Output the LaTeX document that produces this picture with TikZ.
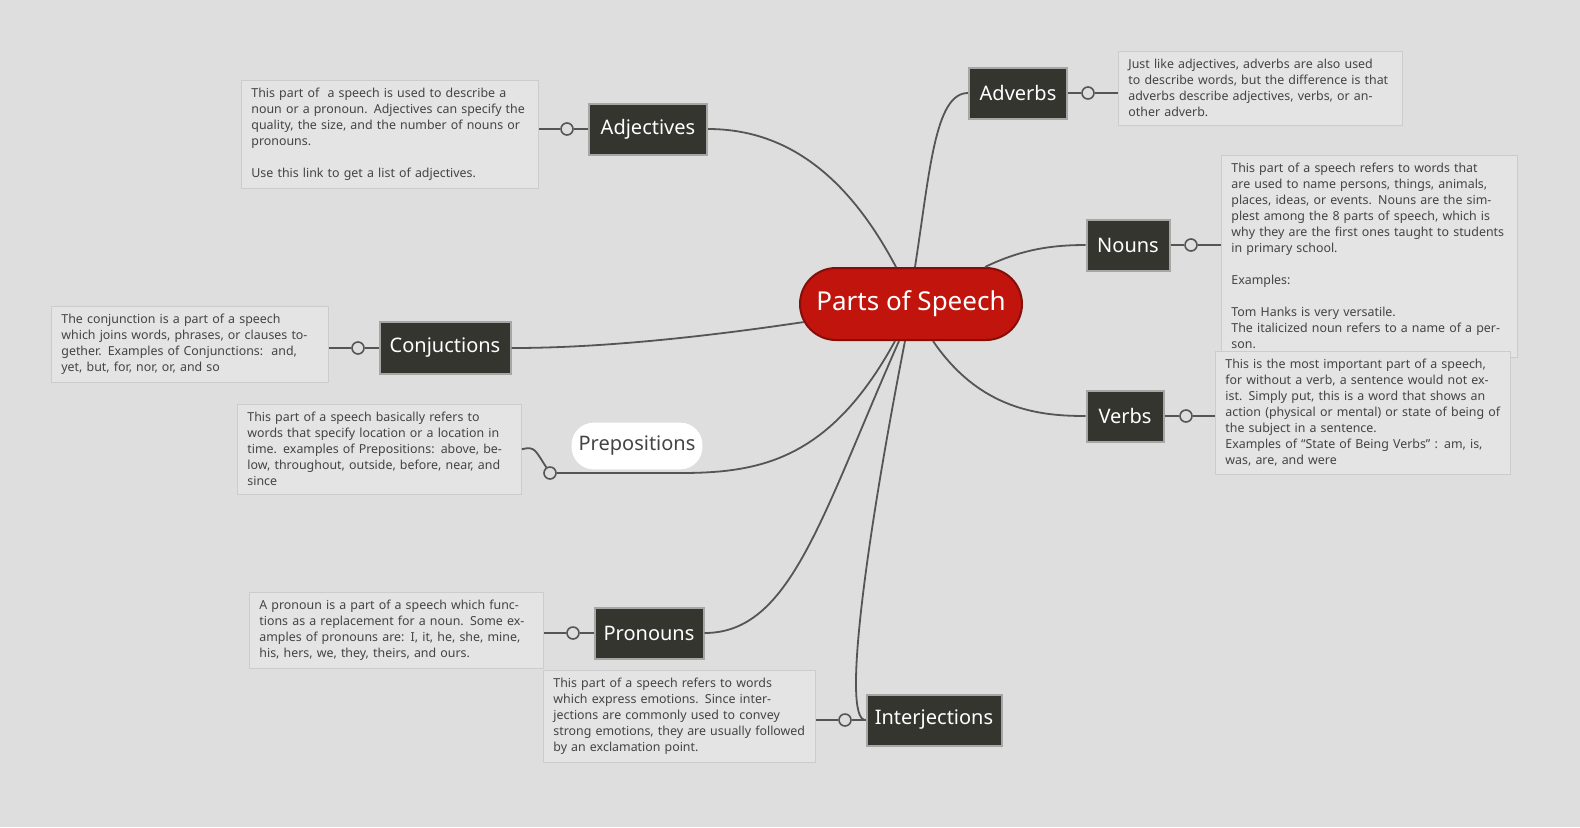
\documentclass[tikz,border=0pt]{standalone}
\usepackage{fontspec}
\setmainfont{Noto Sans}
\definecolor{bg}{HTML}{DEDEDE}
\definecolor{dark}{HTML}{35352F}
\definecolor{redc}{HTML}{C0140C}
\definecolor{lin}{HTML}{555555}
\definecolor{descf}{HTML}{E4E4E4}
\definecolor{descb}{HTML}{CCCCCC}
\definecolor{txt}{HTML}{444444}
\tikzset{
 topic/.style={draw=gray!70, line width=1pt, fill=dark, text=white, font=\fontsize{10}{12}\selectfont, inner sep=0pt},
 desc/.style={draw=descb, fill=descf, text=txt, font=\fontsize{6.2}{8}\selectfont, align=left, anchor=north west, inner xsep=5pt, inner ysep=4pt},
 knob/.style={circle, draw=lin, fill=bg, line width=0.8pt, minimum size=6pt, inner sep=0pt},
 con/.style={draw=lin, line width=0.9pt}
}
\begin{document}
\begin{tikzpicture}[x=0.5pt,y=-0.5pt]
\fill[bg] (0,0) rectangle (1580,827);
\useasboundingbox (0,0) rectangle (1580,827);
% central
\node[draw=redc!70!black, line width=1pt, fill=redc, text=white, rounded corners=18pt, minimum width=111pt, minimum height=36pt, font=\fontsize{13}{15}\selectfont] (c) at (911,304) {Parts of Speech};
% topics
\node[topic, minimum width=59pt, minimum height=25.5pt] (adj) at (648,129) {Adjectives};
\node[topic, minimum width=49pt, minimum height=25.5pt] (adv) at (1018,93) {Adverbs};
\node[topic, minimum width=41.5pt, minimum height=25.5pt] (nou) at (1128,245) {Nouns};
\node[topic, minimum width=65.5pt, minimum height=26pt] (con) at (445,348) {Conjuctions};
\node[draw=white, fill=white, text=txt, rounded corners=11pt, minimum width=64pt, minimum height=23pt, font=\fontsize{10}{12}\selectfont] (pre) at (637,446) {Prepositions};
\node[topic, minimum width=38.5pt, minimum height=25.5pt] (ver) at (1125,416) {Verbs};
\node[topic, minimum width=54.5pt, minimum height=25.5pt] (pro) at (649,633) {Pronouns};
\node[topic, minimum width=67.5pt, minimum height=25.5pt] (int) at (934,720) {Interjections};
% descriptions
\node[desc, text width=138.5pt] (dadj) at (241,80) {This part of\ \ a speech is used to describe a noun or a pronoun. Adjectives can specify the quality, the size, and the number of nouns or pronouns.\\[8pt]Use this link to get a list of adjectives.};
\node[desc, text width=132pt] (dadv) at (1118,51) {Just like adjectives, adverbs are also used to describe words, but the difference is that adverbs describe adjectives, verbs, or another adverb.};
\node[desc, text width=138pt] (dnou) at (1221,155) {This part of a speech refers to words that are used to name persons, things, animals, places, ideas, or events. Nouns are the simplest among the 8 parts of speech, which is why they are the first ones taught to students in primary school.\\[8pt]Examples:\\[8pt]Tom Hanks is very versatile.\\The italicized noun refers to a name of a person.};
\node[desc, text width=128.5pt] (dcon) at (51,306) {The conjunction is a part of a speech which joins words, phrases, or clauses together. Examples of Conjunctions:\ \ and, yet, but, for, nor, or, and so};
\node[desc, text width=132pt] (dpre) at (237,404) {This part of a speech basically refers to words that specify location or a location in time. examples of Prepositions: above, below, throughout, outside, before, near, and since};
\node[desc, text width=137.5pt] (dver) at (1215,351) {This is the most important part of a speech, for without a verb, a sentence would not exist. Simply put, this is a word that shows an action (physical or mental) or state of being of the subject in a sentence.\\Examples of “State of Being Verbs” : am, is, was, are, and were};
\node[desc, text width=137pt] (dpro) at (249,592) {A pronoun is a part of a speech which functions as a replacement for a noun. Some examples of pronouns are: I, it, he, she, mine, his, hers, we, they, theirs, and ours.};
\node[desc, text width=126pt] (dint) at (543,670) {This part of a speech refers to words which express emotions. Since interjections are commonly used to convey strong emotions, they are usually followed by an exclamation point.};
% knobs
\node[knob] (kadj) at (567,129) {};
\node[knob] (kadv) at (1088,93) {};
\node[knob] (knou) at (1191,245) {};
\node[knob] (kcon) at (358,348) {};
\node[knob] (kpre) at (550,473) {};
\node[knob] (kver) at (1186,416) {};
\node[knob] (kpro) at (573,633) {};
\node[knob] (kint) at (845,720) {};
% connectors center to topics
\draw[con] (c.north) ++(-15,0) coordinate (a1) .. controls (850,180) and (790,129) .. (adj.east);
\draw[con] (c.north) ++(4,0) coordinate (a2) .. controls (930,170) and (935,93) .. (adv.west);
\draw[con] (c.north) ++(74,0) coordinate (a3) .. controls (1020,250) and (1050,245) .. (nou.west);
\draw[con] (c.west) ++(5,18) coordinate (a4) .. controls (650,345) and (560,348) .. (con.east);
\draw[con] (c.south) ++(-16,0) coordinate (a5) .. controls (830,460) and (760,473) .. (680,473) -- (kpre);
\draw[con] (c.south) ++(22,0) coordinate (a6) .. controls (980,410) and (1040,416) .. (ver.west);
\draw[con] (c.south) ++(-12,0) coordinate (a7) .. controls (820,520) and (790,633) .. (pro.east);
\draw[con] (c.south) ++(-6,0) coordinate (a8) .. controls (870,520) and (840,720) .. (int.west);
% topic to knob to desc
\draw[con] (adj.west) -- (kadj) -- (dadj.east |- kadj);
\draw[con] (adv.east) -- (kadv) -- (dadv.west |- kadv);
\draw[con] (nou.east) -- (knou) -- (dnou.west |- knou);
\draw[con] (con.west) -- (kcon) -- (dcon.east |- kcon);
\draw[con] (kpre) .. controls (535,450) and (535,446) .. (dpre.east);
\draw[con] (ver.east) -- (kver) -- (dver.west |- kver);
\draw[con] (pro.west) -- (kpro) -- (dpro.east |- kpro);
\draw[con] (int.west) -- (kint) -- (dint.east |- kint);
\end{tikzpicture}
\end{document}
